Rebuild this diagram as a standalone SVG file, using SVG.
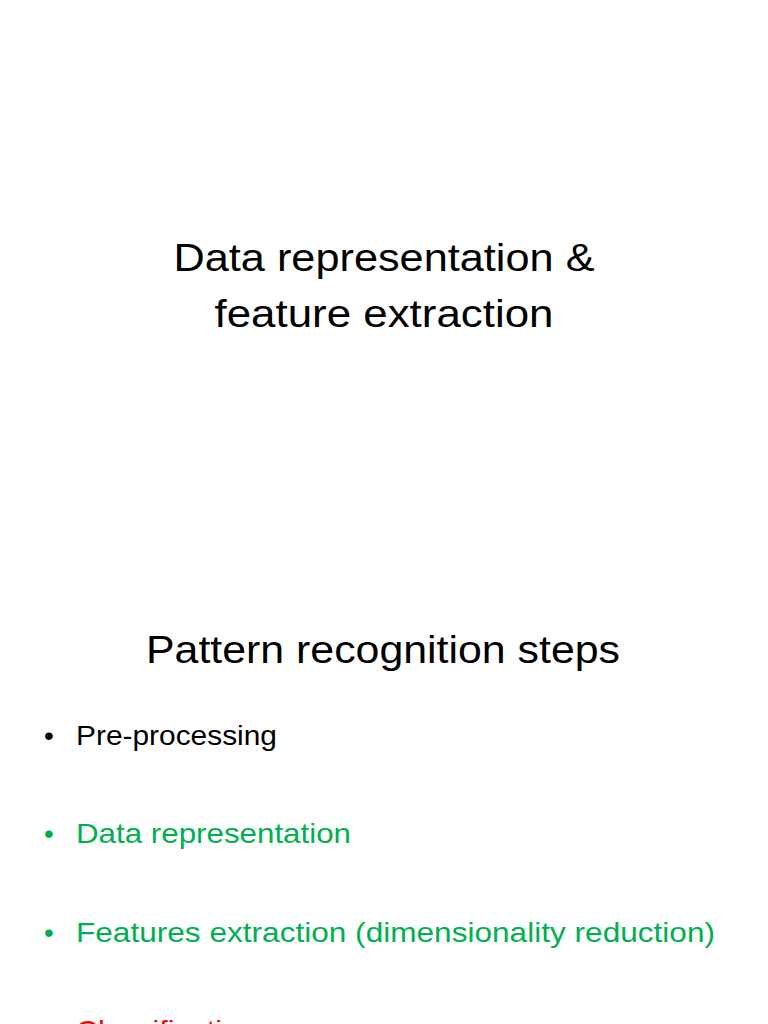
<svg xmlns="http://www.w3.org/2000/svg" width="768" height="1024" viewBox="0 0 768 1024">
<style>
text{font-family:"Liberation Sans","Open Sans",sans-serif;}
.t{font-size:38px;fill:#000;text-anchor:middle}
.b{font-size:28px}
.k{fill:#000}.g{fill:#00b050}.r{fill:#ff0000}
</style>
<rect width="768" height="1024" fill="#fff"/>
<text class="t" x="384" y="271" textLength="421" lengthAdjust="spacingAndGlyphs">Data representation &amp;</text>
<text class="t" x="384" y="327" textLength="339" lengthAdjust="spacingAndGlyphs">feature extraction</text>
<text class="t" x="383" y="663" textLength="474" lengthAdjust="spacingAndGlyphs">Pattern recognition steps</text>
<text class="b k" x="44" y="745">•</text>
<text class="b k" x="76" y="745" textLength="201" lengthAdjust="spacingAndGlyphs">Pre-processing</text>
<text class="b g" x="44" y="843">•</text>
<text class="b g" x="76" y="843" textLength="275" lengthAdjust="spacingAndGlyphs">Data representation</text>
<text class="b g" x="44" y="942">•</text>
<text class="b g" x="76" y="942" textLength="639" lengthAdjust="spacingAndGlyphs">Features extraction (dimensionality reduction)</text>
<text class="b r" x="44" y="1040">•</text>
<text class="b r" x="76" y="1040" textLength="180" lengthAdjust="spacingAndGlyphs">Classification</text>
</svg>
